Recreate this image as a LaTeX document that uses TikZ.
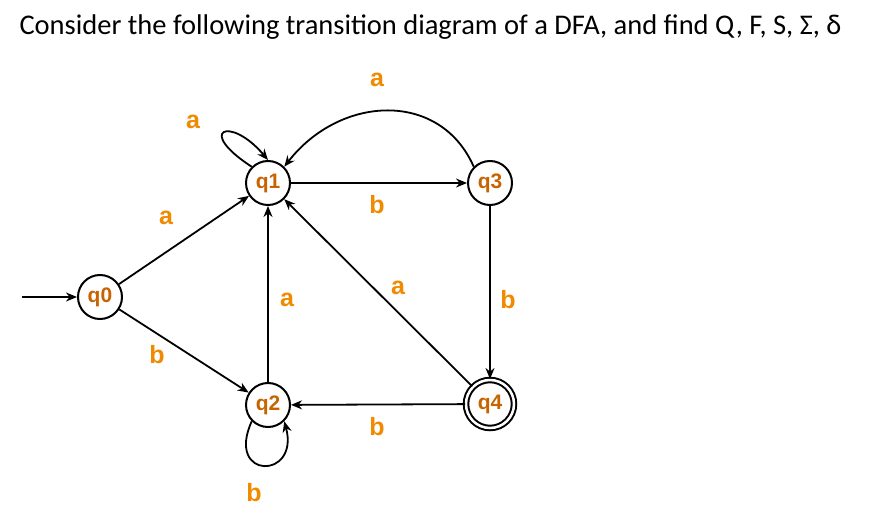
\documentclass[tikz,border=0pt]{standalone}
\usepackage{fontspec}
\setmainfont{Liberation Sans}
\newfontfamily\titlefont{Carlito}
\usetikzlibrary{arrows.meta}
\definecolor{lab}{HTML}{F08A00}
\definecolor{st}{HTML}{C86400}
\begin{document}
\begin{tikzpicture}[x=1pt,y=-1pt,
  state/.style={circle,draw,line width=2pt,minimum size=44pt,inner sep=0pt,text=st,font=\bfseries\fontsize{21}{21}\selectfont},
  acc/.style={state,double,double distance=2.5pt,minimum size=48pt},
  edge/.style={-{Stealth[length=11pt,width=9pt]},line width=1.8pt},
  lbl/.style={text=lab,font=\bfseries\fontsize{25}{25}\selectfont}]
\useasboundingbox (0,0) rectangle (872,521);
\node[anchor=west,font=\titlefont\fontsize{28.5}{28.5}\selectfont] (title) at (16,27) {Consider the following transition diagram of a DFA, and find Q, F, S, Σ, δ};
\node[state] (q0) at (100,297) {q0};
\node[state] (q1) at (268,183) {q1};
\node[state] (q3) at (490,183) {q3};
\node[state] (q2) at (268,405) {q2};
\node[acc] (q4) at (490,404) {q4};
\coordinate (start) at (22,297);
\draw[edge] (start) -- (q0);
\draw[edge] (q0) -- (q1);
\draw[edge] (q0) -- (q2);
\draw[edge] (q1) -- (q3);
\draw[edge] (q3) -- (q4);
\draw[edge] (q4) -- (q2);
\draw[edge] (q2) -- (q1);
\draw[edge] (q4) -- (q1);
\draw[edge] (q3.north west) .. controls (440,90) and (340,95) .. (q1.north east);
\draw[edge] (q1.north west) .. controls (195,130) and (230,115) .. (q1.north);
\draw[edge] (q2.south west) .. controls (225,480) and (300,480) .. (q2.south east);
\node[lbl] (la1) at (193,122) {a};
\node[lbl] (la2) at (166,218) {a};
\node[lbl] (lb1) at (157,355) {b};
\node[lbl] (la3) at (377,80) {a};
\node[lbl] (lb2) at (377,205) {b};
\node[lbl] (la4) at (287,300) {a};
\node[lbl] (la5) at (398,288) {a};
\node[lbl] (lb3) at (508,300) {b};
\node[lbl] (lb4) at (377,427) {b};
\node[lbl] (lb5) at (254,493) {b};
\end{tikzpicture}
\end{document}
